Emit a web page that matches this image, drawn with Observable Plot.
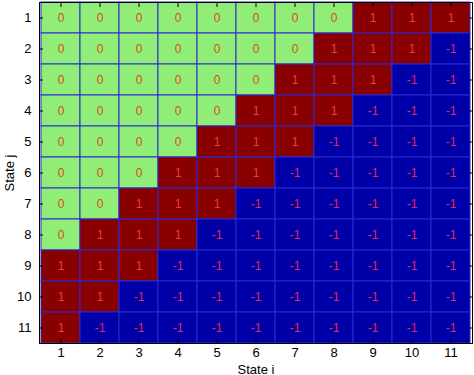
<!DOCTYPE html>
<html>
<head>
<meta charset="utf-8">
<script src="https://cdn.jsdelivr.net/npm/d3@7"></script>
<script src="https://cdn.jsdelivr.net/npm/@observablehq/plot@0.6"></script>
<style>
  html, body { margin: 0; padding: 0; background: #fff; }
  #chart svg { display: block; }
</style>
</head>
<body>
<div id="chart"></div>
<script>
const states = [1, 2, 3, 4, 5, 6, 7, 8, 9, 10, 11];
// rows = State j (1..11), columns = State i (1..11)
const matrix = [
  [0, 0, 0, 0, 0, 0, 0, 0, 1, 1, 1],
  [0, 0, 0, 0, 0, 0, 0, 1, 1, 1, -1],
  [0, 0, 0, 0, 0, 0, 1, 1, 1, -1, -1],
  [0, 0, 0, 0, 0, 1, 1, 1, -1, -1, -1],
  [0, 0, 0, 0, 1, 1, 1, -1, -1, -1, -1],
  [0, 0, 0, 1, 1, 1, -1, -1, -1, -1, -1],
  [0, 0, 1, 1, 1, -1, -1, -1, -1, -1, -1],
  [0, 1, 1, 1, -1, -1, -1, -1, -1, -1, -1],
  [1, 1, 1, -1, -1, -1, -1, -1, -1, -1, -1],
  [1, 1, -1, -1, -1, -1, -1, -1, -1, -1, -1],
  [1, -1, -1, -1, -1, -1, -1, -1, -1, -1, -1]
];
const values = [-1, 0, 1];
const cellColors = ["#0000a8", "#90ee78", "#880000"];
const textColors = ["#e0285a", "#d4500c", "#f03a3a"];

const data = matrix.flatMap((row, j) => row.map((v, i) => ({i: states[i], j: states[j], v})));

const font = "Liberation Sans, Arial, Helvetica, sans-serif";
const blank = () => "";

const chart = Plot.plot({
  width: 474,
  height: 375,
  marginLeft: 39,
  marginRight: 2,
  marginTop: 2,
  marginBottom: 32,
  style: {fontFamily: font, fontSize: "12px", color: "#000", background: "#fff"},
  x: {type: "band", domain: states, padding: 0},
  y: {type: "band", domain: states, padding: 0},
  color: {type: "ordinal", domain: values, range: cellColors},
  marks: [
    Plot.cell(data, {x: "i", y: "j", fill: "v", stroke: "#2a2ad0", strokeWidth: 1}),
    ...values.map((val, k) => Plot.text(data.filter(d => d.v === val), {
      x: "i", y: "j", text: d => String(d.v), fill: textColors[k], fontSize: 12, fontFamily: font
    })),
    Plot.frame({stroke: "#000", strokeWidth: 1}),
    Plot.axisX({anchor: "bottom", tickSize: 0, tickPadding: 4, fontSize: 13,
      label: "State i", labelAnchor: "center", labelOffset: 30, labelArrow: "none"}),
    Plot.axisX({anchor: "bottom", tickSize: 4, dy: -4, tickFormat: blank, label: null, stroke: "#000"}),
    Plot.axisX({anchor: "top", tickSize: 4, dy: 4, tickFormat: blank, label: null, stroke: "#000"}),
    Plot.axisY({anchor: "left", tickSize: 0, tickPadding: 8, fontSize: 13,
      label: "State j", labelAnchor: "center", labelOffset: 35, labelArrow: "none"}),
    Plot.axisY({anchor: "left", tickSize: 4, dx: 4, tickFormat: blank, label: null, stroke: "#000"}),
    Plot.axisY({anchor: "right", tickSize: 4, dx: -4, tickFormat: blank, label: null, stroke: "#000"})
  ]
});
document.getElementById("chart").appendChild(chart);
</script>
</body>
</html>
